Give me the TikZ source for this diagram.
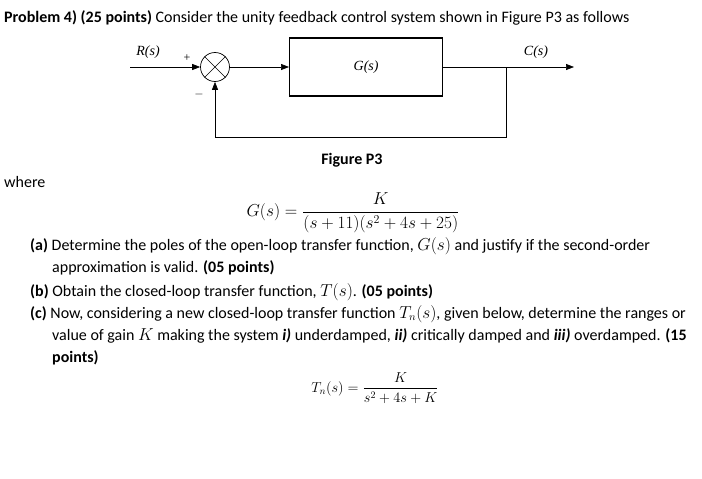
\documentclass[tikz,border=0pt]{standalone}
\usepackage{amsmath}
\usepackage{fontspec}
\setmainfont{Carlito}
\newfontfamily\tms{Liberation Serif}
\usetikzlibrary{arrows.meta}
\begin{document}
\begin{tikzpicture}[x=1pt,y=-1pt,
  txt/.style={anchor=base west,inner sep=0,font=\fontsize{16}{18}\selectfont},
  eq/.style={inner sep=0,font=\fontsize{15.6}{18}\selectfont},
  dg/.style={font=\tms\itshape\fontsize{14}{16}\selectfont,inner sep=0},
  sig/.style={-{Triangle[length=8pt,width=6pt]},line width=0.7pt},
  ln/.style={line width=0.7pt}]
\useasboundingbox (0,0) rectangle (702,479);
\node[txt] (t) at (4,23) {\textbf{Problem 4) (25 points)} Consider the unity feedback control system shown in Figure P3 as follows};
% diagram
\coordinate (in) at (130,67);
\node[draw,circle,minimum size=29pt,inner sep=0,ln] (sum) at (215,67) {};
\draw[ln] (sum.45)--(sum.225) (sum.135)--(sum.315);
\node[draw,line width=1.3pt,minimum width=153pt,minimum height=58pt,anchor=west] (G) at (289,67) {};
\node[dg] (Gl) at (G.center) {G(s)};
\coordinate (br) at (506,67);
\coordinate (out) at (574,67);
\coordinate (fb1) at (506,137);
\coordinate (fb2) at (215,137);
\draw[sig] (in)--(sum.west);
\draw[sig] (sum.east)--(G.west);
\draw[sig] (G.east)--(out);
\draw[sig] (br)--(fb1)--(fb2)--(sum.south);
\node[dg] (R) at (148,52) {R(s)};
\node[dg] (C) at (536,52) {C(s)};
\node[inner sep=0,font=\tms\fontsize{12}{12}\selectfont] (p) at (187,58) {+};
\node[inner sep=0,font=\tms\fontsize{12}{12}\selectfont] (m) at (199,94) {$-$};
\node[txt,anchor=base] (fig) at (352,164) {\textbf{Figure P3}};
\node[txt] (w) at (4,187) {where};
\node[eq,font=\fontsize{17}{19}\selectfont] (eq1) at (353,213) {$G(s)=\dfrac{K}{(s+11)(s^2+4s+25)}$};
\node[txt] (a1) at (30,250) {\textbf{(a)} Determine the poles of the open-loop transfer function, $G(s)$ and justify if the second-order};
\node[txt] (a2) at (52,272) {approximation is valid. \textbf{(05 points)}};
\node[txt] (b1) at (30,296) {\textbf{(b)} Obtain the closed-loop transfer function, $T(s)$. \textbf{(05 points)}};
\node[txt] (c1) at (30,318) {\textbf{(c)} Now, considering a new closed-loop transfer function $T_n(s)$, given below, determine the ranges or};
\node[txt] (c2) at (52,340) {value of gain $K$ making the system \textbf{\textit{i)}} underdamped, \textbf{\textit{ii)}} critically damped and \textbf{\textit{iii)}} overdamped. \textbf{(15}};
\node[txt] (c3) at (52,362) {\textbf{points)}};
\node[eq,font=\fontsize{14}{16}\selectfont] (eq2) at (375,388) {$T_n(s)=\dfrac{K}{s^2+4s+K}$};
\end{tikzpicture}
\end{document}
